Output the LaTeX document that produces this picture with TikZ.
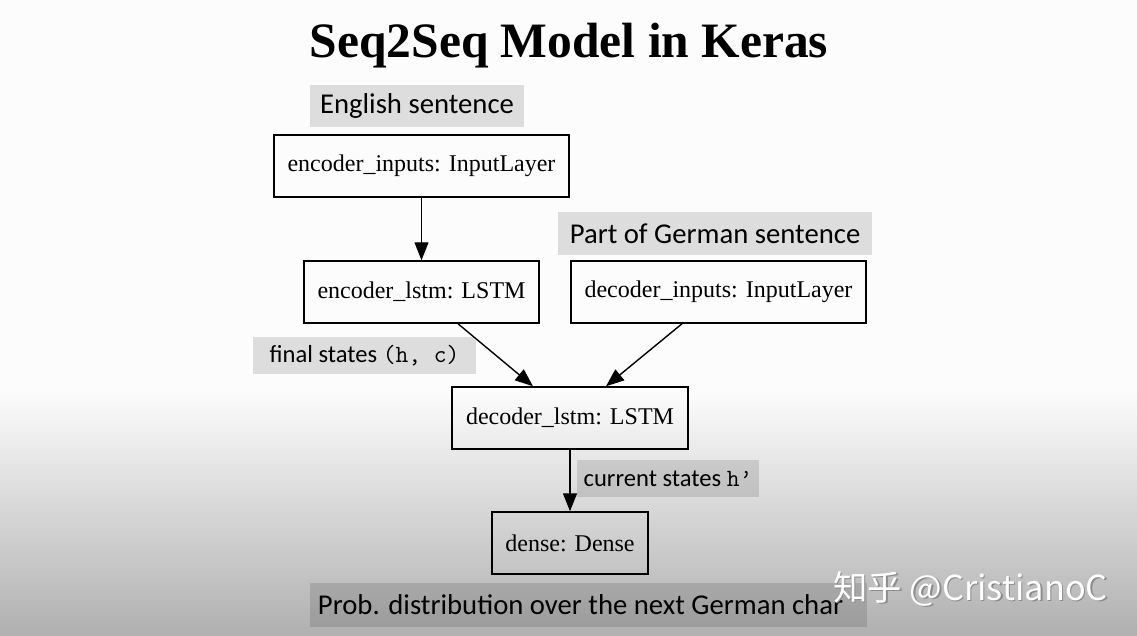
\documentclass[tikz,border=0pt]{standalone}
\usepackage{fontspec}
\setmainfont{Liberation Serif}
\setsansfont{Carlito}
\newfontfamily\cjkfont{Noto Sans CJK SC}
\usetikzlibrary{arrows.meta}
\newcommand{\mytt}[1]{{\ttfamily\fontsize{24.8}{26}\selectfont #1}}
\begin{document}
\begin{tikzpicture}[x=1pt,y=-1pt,
  layer/.style={draw=black,line width=1.5pt,inner sep=0pt,font=\fontsize{24}{26}\selectfont},
  tag/.style={fill=black,fill opacity=0.12,text opacity=1,inner sep=0pt,font=\sffamily\fontsize{28.7}{31}\selectfont},
  smalltag/.style={tag,font=\sffamily\fontsize{24.6}{27}\selectfont},
  flow/.style={line width=1.4pt,-{Triangle[length=18pt,width=14pt]}}]
\useasboundingbox (0,0) rectangle (1137,635);
\fill[white!98.8!black] (0,0) rectangle (1137,392);
\shade[top color=white!98.8!black,bottom color=black!31] (0,391) rectangle (1137,635);
% title
\node[anchor=base,font=\bfseries\fontsize{49.5}{54}\selectfont] (title) at (569,57) {Seq2Seq Model in Keras};
% layers
\node[layer,minimum width=295pt,minimum height=62pt] (encin) at (421.5,166) {encoder\_inputs: InputLayer};
\node[layer,minimum width=235pt,minimum height=62pt] (encl) at (421.5,292) {encoder\_lstm: LSTM};
\node[layer,minimum width=295pt,minimum height=62pt] (decin) at (718.5,292) {decoder\_inputs: InputLayer};
\node[layer,minimum width=236pt,minimum height=62pt] (decl) at (570,418) {decoder\_lstm: LSTM};
\node[layer,minimum width=156pt,minimum height=62pt] (dense) at (570,543) {dense: Dense};
% tags
\node[tag,minimum width=214pt,minimum height=42pt] (tEng) at (417,106) {English sentence};
\node[tag,minimum width=314pt,minimum height=43pt] (tGer) at (715,233.5) {Part of German sentence};
\node[smalltag,minimum width=223pt,minimum height=37pt] (tFin) at (364.5,355.5) {final states \mytt{(h, c)}};
\node[smalltag,minimum width=182pt,minimum height=37pt] (tCur) at (668,478.5) {current states \mytt{h’}};
\node[tag,minimum width=557pt,minimum height=44pt] (tProb) at (588.5,605) {Prob. distribution over the next German char\hspace*{16pt}};
% connectors
\draw[flow] (encin.south) -- (encl.north);
\draw[flow] ([xshift=36.5pt]encl.south) -- ([xshift=-37pt]decl.north);
\draw[flow] ([xshift=-36.5pt]decin.south) -- ([xshift=36pt]decl.north);
\draw[flow] (decl.south) -- (dense.north);
% watermark
\node[anchor=base,text=black!45,font=\cjkfont\fontsize{34.4}{37}\selectfont] (wmS) at (972,601.5) {知乎 @CristianoC};
\node[anchor=base,text=white,font=\cjkfont\fontsize{34.4}{37}\selectfont] (wm) at (970.5,600) {知乎 @CristianoC};
\end{tikzpicture}
\end{document}
